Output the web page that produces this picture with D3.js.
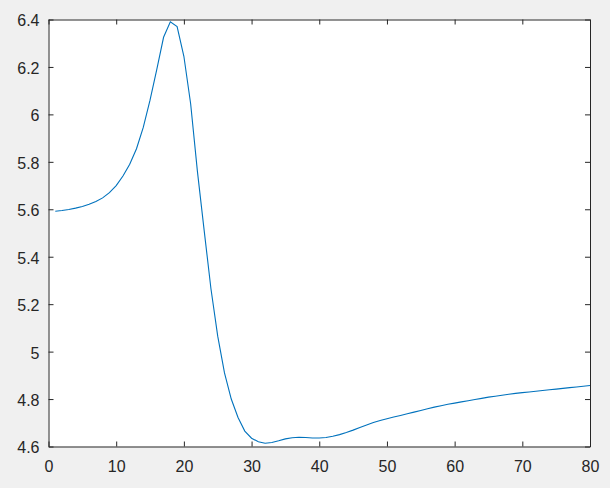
<!DOCTYPE html>
<html>
<head>
<meta charset="utf-8">
<script src="https://cdn.jsdelivr.net/npm/d3@7"></script>
<style>
  html, body { margin: 0; padding: 0; background: #f0f0f0; }
  svg { display: block; }
  .tick text { font-family: "Liberation Sans", Arial, Helvetica, sans-serif; font-size: 16px; fill: #262626; }
</style>
</head>
<body>
<div id="chart"></div>
<script>
// chart data
const xValues = [
  1, 2, 3, 4, 5, 6, 7, 8, 9, 10,
  11, 12, 13, 14, 15, 16, 17, 18, 19, 20,
  21, 22, 23, 24, 25, 26, 27, 28, 29, 30,
  31, 32, 33, 34, 35, 36, 37, 38, 39, 40,
  41, 42, 43, 44, 45, 46, 47, 48, 49, 50,
  51, 52, 53, 54, 55, 56, 57, 58, 59, 60,
  61, 62, 63, 64, 65, 66, 67, 68, 69, 70,
  71, 72, 73, 74, 75, 76, 77, 78, 79, 80
];
const yValues = [
  5.592, 5.595, 5.599, 5.605, 5.612, 5.621, 5.633, 5.648, 5.670, 5.700,
  5.740, 5.790, 5.855, 5.945, 6.060, 6.190, 6.325, 6.390, 6.370, 6.245,
  6.045, 5.760, 5.510, 5.265, 5.065, 4.910, 4.800, 4.722, 4.665, 4.635,
  4.620, 4.614, 4.617, 4.624, 4.632, 4.637, 4.639, 4.638, 4.636, 4.636,
  4.638, 4.643, 4.650, 4.659, 4.669, 4.680, 4.691, 4.701, 4.710, 4.717,
  4.724, 4.731, 4.738, 4.745, 4.752, 4.759, 4.766, 4.772, 4.778, 4.783,
  4.788, 4.793, 4.798, 4.803, 4.808, 4.812, 4.816, 4.820, 4.824, 4.827,
  4.830, 4.833, 4.836, 4.839, 4.842, 4.845, 4.848, 4.851, 4.854, 4.857
];
const xTicks = [0, 10, 20, 30, 40, 50, 60, 70, 80];
const yTicks = [4.6, 4.8, 5, 5.2, 5.4, 5.6, 5.8, 6, 6.2, 6.4];

// layout
const WIDTH = 610, HEIGHT = 488;
const LEFT = 48.5, RIGHT = 590, TOP = 19.5, BOTTOM = 446.5;
const LINE_COLOR = "#0072BD";
const AXIS_COLOR = "#262626";
const TICK_LEN = 5;

const svg = d3.select("#chart")
  .append("svg")
  .attr("width", WIDTH)
  .attr("height", HEIGHT);

svg.append("rect")
  .attr("x", 0).attr("y", 0)
  .attr("width", WIDTH).attr("height", HEIGHT)
  .attr("fill", "#f0f0f0");

svg.append("rect")
  .attr("x", LEFT).attr("y", TOP)
  .attr("width", RIGHT - LEFT).attr("height", BOTTOM - TOP)
  .attr("fill", "white");

const xScale = d3.scaleLinear().domain([0, 80]).range([LEFT, RIGHT]);
const yScale = d3.scaleLinear().domain([4.6, 6.4]).range([BOTTOM, TOP]);

const fmt = d => d3.format("~g")(d);

// bottom axis with labels
svg.append("g")
  .attr("transform", `translate(0,${BOTTOM})`)
  .call(d3.axisBottom(xScale).tickValues(xTicks).tickFormat(fmt)
    .tickSizeInner(-TICK_LEN).tickSizeOuter(0).tickPadding(14));

// top axis, ticks only
svg.append("g")
  .attr("transform", `translate(0,${TOP})`)
  .call(d3.axisTop(xScale).tickValues(xTicks).tickFormat("")
    .tickSizeInner(-TICK_LEN).tickSizeOuter(0));

// left axis with labels
svg.append("g")
  .attr("transform", `translate(${LEFT},0)`)
  .call(d3.axisLeft(yScale).tickValues(yTicks).tickFormat(fmt)
    .tickSizeInner(-TICK_LEN).tickSizeOuter(0).tickPadding(9))
  .selectAll("text")
  .attr("dy", "0.4em");

// right axis, ticks only
svg.append("g")
  .attr("transform", `translate(${RIGHT},0)`)
  .call(d3.axisRight(yScale).tickValues(yTicks).tickFormat("")
    .tickSizeInner(-TICK_LEN).tickSizeOuter(0));

svg.selectAll(".domain, .tick line")
  .attr("stroke", AXIS_COLOR)
  .attr("stroke-width", 1);

// data line
const points = xValues.map((x, i) => [x, yValues[i]]);
svg.append("path")
  .datum(points)
  .attr("fill", "none")
  .attr("stroke", LINE_COLOR)
  .attr("stroke-width", 1.1)
  .attr("d", d3.line().x(d => xScale(d[0])).y(d => yScale(d[1])));
</script>
</body>
</html>
